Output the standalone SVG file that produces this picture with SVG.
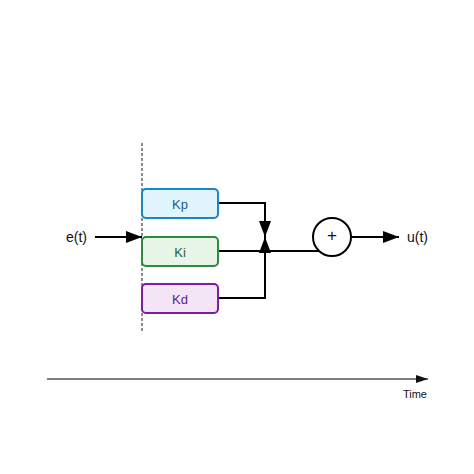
<svg xmlns="http://www.w3.org/2000/svg" width="474" height="474" viewBox="0 0 474 474">
<defs>
<style>
text{font-family:"Liberation Sans",Arial,sans-serif;}
.lbl{font-size:14px;fill:#111;}
.k{font-size:13px;text-anchor:middle;dominant-baseline:central;}
.c{fill:none;stroke:#000;stroke-width:2;}
</style>
<marker id="ah" viewBox="0 0 16 12" refX="16" refY="6" markerWidth="16" markerHeight="12" markerUnits="userSpaceOnUse" orient="auto"><path d="M0,0 L16,6 L0,12 Z" fill="#000"/></marker>
<marker id="ahs" viewBox="0 0 12 8" refX="12" refY="4" markerWidth="12" markerHeight="8" markerUnits="userSpaceOnUse" orient="auto"><path d="M0,0 L12,4 L0,8 Z" fill="#111"/></marker>
</defs>
<rect width="474" height="474" fill="#fff"/>
<line x1="142" y1="143" x2="142" y2="331" stroke="#666" stroke-width="1.5" stroke-dasharray="3,2"/>
<g id="connectors">
<line class="c" x1="95" y1="237" x2="142" y2="237" marker-end="url(#ah)"/>
<path class="c" d="M218,203 H265 V237" marker-end="url(#ah)"/>
<path class="c" d="M218,298 H265 V237" marker-end="url(#ah)"/>
<line class="c" x1="218" y1="251" x2="319" y2="251"/>
<line class="c" x1="351" y1="237" x2="399" y2="237" marker-end="url(#ah)"/>
</g>
<g id="e"><text class="lbl" x="66" y="242">e(t)</text></g>
<g id="kp"><rect x="142" y="189" width="76" height="29" rx="4" fill="#e1f5fe" stroke="#1a87c4" stroke-width="2"/><text class="k" x="180" y="204" fill="#1a5a8c">Kp</text></g>
<g id="ki"><rect x="142" y="237" width="76" height="29" rx="4" fill="#e8f5e9" stroke="#2e8b3e" stroke-width="2"/><text class="k" x="180" y="252" fill="#2e5e2e">Ki</text></g>
<g id="kd"><rect x="142" y="284" width="76" height="29" rx="4" fill="#f3e5f5" stroke="#7b1fa2" stroke-width="2"/><text class="k" x="180" y="299" fill="#5a1f8a">Kd</text></g>
<g id="sum"><circle cx="332" cy="237" r="19" fill="#fff" stroke="#000" stroke-width="2"/><text x="332" y="241" font-size="17" text-anchor="middle" fill="#111">+</text></g>
<g id="u"><text class="lbl" x="407" y="242">u(t)</text></g>
<g id="time">
<line x1="47" y1="379" x2="428" y2="379" stroke="#555" stroke-width="1.5" marker-end="url(#ahs)"/>
<text x="427" y="398" font-size="11" text-anchor="end" fill="#111">Time</text>
</g>
</svg>
